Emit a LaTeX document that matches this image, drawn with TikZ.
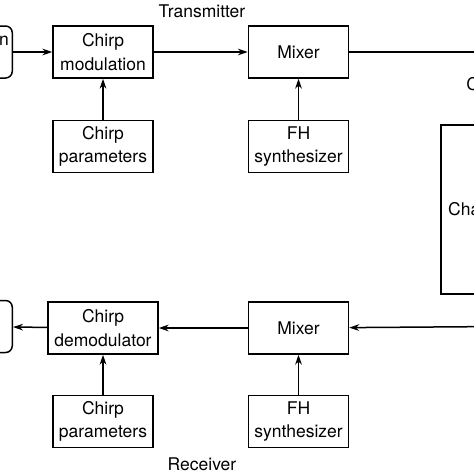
\documentclass[tikz,border=0pt]{standalone}
\usepackage{fontspec}
\setmainfont{TeX Gyre Heros}
\usetikzlibrary{arrows.meta, positioning}

\begin{document}
\begin{tikzpicture}[
        x=0.6pt, y=-0.6pt,
        font=\fontsize{10.5}{14}\selectfont,
        blk/.style={rectangle, draw, line width=0.9pt, minimum width=60pt, minimum height=31.2pt, align=center, inner sep=1pt},
        src/.style={blk, rounded corners=4pt, anchor=east},
        arrow/.style={-{Stealth[length=6pt, width=4pt]}, line width=0.9pt}
        ]
        \useasboundingbox (0,0) rectangle (474,474);

        % transmitter chain
        \node[blk] (mod) at (103,52) {Chirp\\modulation};
        \node[blk, right=56.4pt of mod] (mixtx) {Mixer};
        \node[blk, below=24.6pt of mod] (partx) {Chirp\\parameters};
        \node[blk, below=24.6pt of mixtx] (fhtx) {FH\\synthesizer};
        \node[src, text width=56pt, align=right] (srctx) at (13,52) {n\\\mbox{}};

        % receiver chain
        \node[blk, minimum width=66pt, below=76.8pt of partx] (demod) {Chirp\\demodulator};
        \node[blk, below=76.8pt of fhtx] (mixrx) {Mixer};
        \node[blk, below=24pt of demod] (parrx) {Chirp\\parameters};
        \node[blk, below=24pt of mixrx] (fhrx) {FH\\synthesizer};
        \node[src, minimum width=60pt] (srcrx) at (13,326.5) {};

        % channel
        \node[blk, anchor=west, minimum width=48pt, minimum height=101.4pt] (chan) at (440,209.5) {Channel};
        \node[anchor=west, inner sep=0pt] (cut) at (466,84) {C};

        \node (tx) at (202,11) {Transmitter};
        \node (rx) at (202,464) {Receiver};

        \coordinate (txout) at (500,52);
        \coordinate (rxin) at (500,326.5);

        \draw[arrow] (srctx) -- (mod);
        \draw[arrow] (mod) -- (mixtx);
        \draw[arrow] (partx) -- (mod);
        \draw[arrow] (fhtx) -- (mixtx);
        \draw[line width=0.9pt] (mixtx) -- (txout);

        \draw[arrow] (rxin) -- (mixrx);
        \draw[arrow] (mixrx) -- (demod);
        \draw[arrow] (demod) -- (srcrx);
        \draw[arrow] (parrx) -- (demod);
        \draw[arrow] (fhrx) -- (mixrx);

    \end{tikzpicture}
\end{document}
